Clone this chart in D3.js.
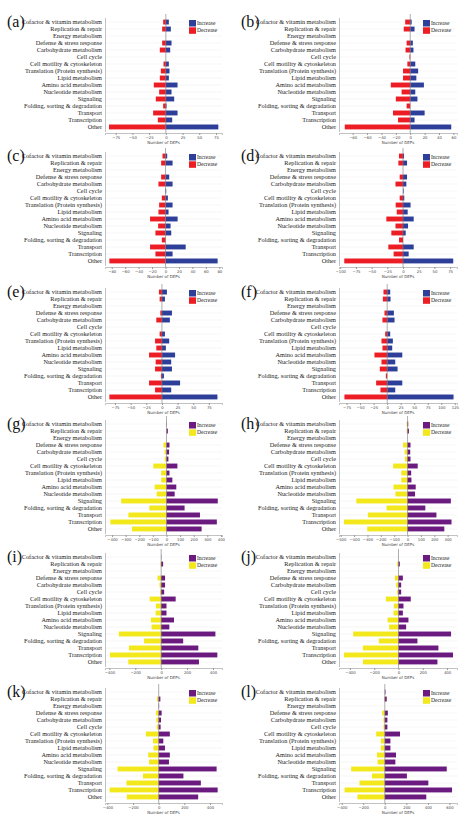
<!DOCTYPE html>
<html><head><meta charset="utf-8">
<script src="https://cdn.jsdelivr.net/npm/d3@7"></script>
<style>body{margin:0;background:#fff}</style>
</head><body><div id="container"></div>
<script>
const categories = ["Cofactor & vitamin metabolism","Replication & repair","Energy metabolism","Defense & stress response","Carbohydrate metabolism","Cell cycle","Cell motility & cytoskeleton","Translation (Protein synthesis)","Lipid metabolism","Amino acid metabolism","Nucleotide metabolism","Signaling","Folding, sorting & degradation","Transport","Transcription","Other"];

const panelLabels = ["a","b","c","d","e","f","g","h","i","j","k","l"];

// increase / decrease counts per panel, in category order
const incA = [4.5,7.5,0,8.5,6.5,0,4.5,5.5,4.5,17.5,8.5,12.5,1,17.5,9.5,78.5];
const decA = [4,5.5,0,5.5,9,0,3.5,7.5,9,18,10,15,4,19,12,85];
const incB = [2,6,0,3.6,4.5,0,7,11,8.5,19,7,10,0,20,6,57];
const decB = [7,9,0,5,6.5,1,4,10,10,27,12,20,5,24,17,91];
const incC = [2.5,10.5,0,5.5,10.5,1,3.5,10.5,4.5,18,7.5,8.5,0,30,10.5,77.5];
const decC = [4.5,6.5,0,6.5,10.5,0,5.5,9.5,10.5,23,11,15,5.5,23,15,83.5];
const incD = [1.6,6.4,0,6.4,5.3,1,2,12,7.4,17,8,4.3,0,17,9,80];
const decD = [6.4,7.4,0,5.3,12,0,5.3,11.7,10,26.6,12,18.6,6.4,23.4,15,93.6];
const incE = [8,4.8,0,16,12.7,0,4.8,11.6,6.3,21,14.8,16,3.2,29,14.8,88.7];
const decE = [4.8,3.7,0,2.6,9,0,3.7,11,9,20.6,10,11,1.6,20.6,11,84];
const incF = [5.6,6.2,0,12.4,13.6,0,5.6,10.5,9.3,27.9,14.9,19.2,0,27.9,14.9,122.6];
const decF = [6.8,8,0,5,8.7,0,3.7,10.5,8.7,23.5,10.5,13.6,2.5,20.4,12.4,79];
const incG = [2,10,0,22,19,14,80,22,43,72,60,377,133,246,370,258];
const decG = [0,2,0,22,14,12,97,39,39,87,72,333,126,280,413,254];
const incH = [5,10,0,22,20,22,76,27,29,61,56,324,133,216,329,275];
const decH = [7,7,0,34,22,20,108,47,47,105,91,383,157,297,476,302];
const incI = [2,15,0,30,30,23,112,41,41,99,63,419,170,287,434,292];
const decI = [0,5,0,28,13,8,89,41,43,79,74,327,132,249,396,254];
const incJ = [0,11,0,36,22,22,101,41,36,82,63,433,156,329,449,321];
const decJ = [0,11,0,30,19,11,104,38,41,90,77,373,162,293,449,293];
const incK = [0,13,3,23,18,15,87,36,49,87,80,452,193,329,460,308];
const decK = [0,13,0,21,18,15,100,44,41,82,75,321,123,252,383,249];
const incL = [6,18,0,28,24,24,141,52,52,104,98,575,205,404,624,385];
const decL = [0,6,0,24,12,12,80,37,37,73,67,312,119,235,373,254];

const domains = [[-91,84],[-99,65],[-90,84],[-102,86],[-91,96],[-89,129],[-452,408],[-513,370],[-434,470],[-490,482],[-419,494],[-425,670]];
const ticks = [
  [-75,-50,-25,0,25,50,75],[-80,-60,-40,-20,0,20,40,60],[-80,-60,-40,-20,0,20,40,60,80],
  [-100,-75,-50,-25,0,25,50,75],[-75,-50,-25,0,25,50,75],[-75,-50,-25,0,25,50,75,100,125],
  [-400,-300,-200,-100,0,100,200,300,400],[-500,-400,-300,-200,-100,0,100,200,300],
  [-400,-200,0,200,400],[-400,-200,0,200,400],[-400,-200,0,200,400],[-400,-200,0,200,400,600]
];
const incs = [incA,incB,incC,incD,incE,incF,incG,incH,incI,incJ,incK,incL];
const decs = [decA,decB,decC,decD,decE,decF,decG,decH,decI,decJ,decK,decL];
const rowTops = [0,134,270,402,535,670];

const width = 474, height = 818;
const svg = d3.select('#container').append('svg')
  .attr('width', width).attr('height', height)
  .attr('viewBox', [0,0,width,height])
  .style('font-family', '"Liberation Serif", "Times New Roman", serif');

panelLabels.forEach((lab, i) => {
  const col = i % 2, row = Math.floor(i / 2);
  const ox = col * 236 + (col ? -2 : 0), oy = rowTops[row];
  const purple = i >= 6;
  const incColor = purple ? '#6b1a80' : '#2e3f99';
  const decColor = purple ? '#f2e81c' : '#ec1d25';
  const left = col ? 339 : 105, right = col ? 457 : 222;

  const x = d3.scaleLinear(domains[i], [left, right]);
  const y = d3.scaleBand(categories, [oy + 17.5, oy + 131.5]).padding(0.3);
  const g = svg.append('g');

  // grid
  g.append('g').selectAll('line').data(categories).join('line')
    .attr('x1', left).attr('x2', right)
    .attr('y1', d => y(d) + y.bandwidth()/2).attr('y2', d => y(d) + y.bandwidth()/2)
    .attr('stroke', '#ececec').attr('stroke-width', 0.5);

  g.append('g').selectAll('rect').data(decs[i]).join('rect')
    .attr('x', d => x(-d)).attr('width', d => x(0) - x(-d))
    .attr('y', (d, k) => y(categories[k])).attr('height', y.bandwidth())
    .attr('fill', decColor);
  g.append('g').selectAll('rect').data(incs[i]).join('rect')
    .attr('x', x(0)).attr('width', d => x(d) - x(0))
    .attr('y', (d, k) => y(categories[k])).attr('height', y.bandwidth())
    .attr('fill', incColor);

  g.append('line').attr('x1', x(0)).attr('x2', x(0))
    .attr('y1', oy + 14).attr('y2', oy + 133).attr('stroke', '#777').attr('stroke-width', 0.6);

  // y axis
  const ya = g.append('g').attr('transform', `translate(${left},0)`)
    .call(d3.axisLeft(y).tickSize(0).tickPadding(3));
  ya.select('.domain').attr('stroke', '#999').attr('stroke-width', 0.6);
  ya.selectAll('text').attr('font-size', 6.3).attr('fill', '#222')
    .style('font-family', '"Liberation Serif", serif');

  // x axis
  const xa = g.append('g').attr('transform', `translate(0,${oy + 133})`)
    .call(d3.axisBottom(x).tickValues(ticks[i]).tickSize(2).tickPadding(1));
  xa.select('.domain').attr('stroke', '#999').attr('stroke-width', 0.6);
  xa.selectAll('line').attr('stroke', '#999');
  xa.selectAll('text').attr('font-size', 3.8).attr('fill', '#444')
    .style('font-family', '"DejaVu Sans", sans-serif');
  g.append('text').attr('x', (left + right) / 2).attr('y', oy + 144)
    .attr('text-anchor', 'middle').attr('font-size', 4).attr('fill', '#444')
    .style('font-family', '"DejaVu Sans", sans-serif').text('Number of DEPs');

  // panel label
  g.append('text').attr('x', ox + 7).attr('y', oy + 27).attr('font-size', 16)
    .attr('fill', '#111').text(`(${lab})`);

  // legend
  const lx = ox + 189, ly = oy + 20;
  [['Increase', incColor], ['Decrease', decColor]].forEach(([t, c], k) => {
    g.append('rect').attr('x', lx).attr('y', ly + k * 7.3).attr('width', 7).attr('height', 6.5).attr('fill', c);
    g.append('text').attr('x', lx + 8).attr('y', ly + k * 7.3 + 5).attr('font-size', 5.5)
      .attr('fill', '#222').text(t);
  });
});
</script>
</body></html>
